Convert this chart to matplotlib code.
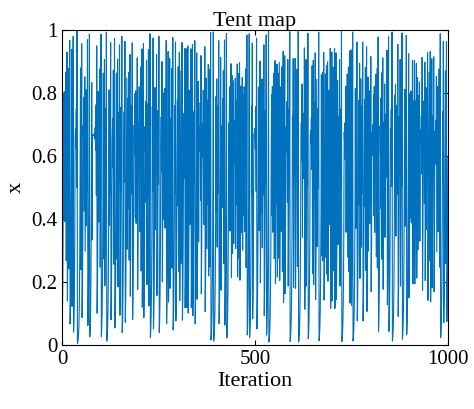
import matplotlib
matplotlib.use("Agg")
import matplotlib.pyplot as plt
import numpy as np

# tent map parameters (the chart's definition)
mu = 1.999
x0 = 0.1
n_iter = 1000

x = [x0]
for _ in range(n_iter - 1):
    v = x[-1]
    x.append(mu * v if v < 0.5 else mu * (1 - v))
iterations = np.arange(1, n_iter + 1)

plt.rcParams['font.family'] = ['Liberation Serif', 'DejaVu Serif']
fig = plt.figure(figsize=(4.74, 4.09), dpi=100)
ax = fig.add_axes([62 / 474, 1 - 345 / 409, 386 / 474, 315 / 409])
ax.plot(iterations, x, color='#0072BD', linewidth=0.8)
ax.set_xlim(0, 1000)
ax.set_ylim(0, 1)
ax.set_xticks([0, 500, 1000])
ax.set_yticks([0, 0.2, 0.4, 0.6, 0.8, 1])
ax.set_yticklabels(['0', '0.2', '0.4', '0.6', '0.8', '1'])
ax.tick_params(direction='in', labelsize=15, top=True, right=True)
ax.set_title('Tent map', fontsize=16, pad=3)
ax.set_xlabel('Iteration', fontsize=16, labelpad=2)
ax.set_ylabel('x', fontsize=16)
fig.savefig('out.png', dpi=100)
